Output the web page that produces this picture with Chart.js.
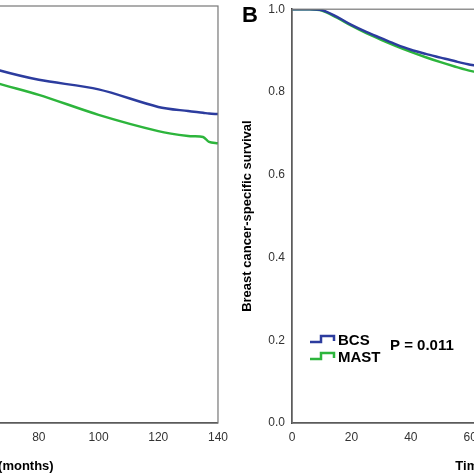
<!DOCTYPE html>
<html>
<head>
<script src="https://cdn.jsdelivr.net/npm/chart.js@4"></script>
<style>
body { margin:0; width:474px; height:474px; overflow:hidden; background:#fff; position:relative; font-family:"Liberation Sans", Arial, sans-serif; }
canvas { position:absolute; top:0; }
#cA { left:-220px; }
#cB { left:240px; }
</style>
</head>
<body>
<canvas id="cA" width="450" height="474"></canvas>
<canvas id="cB" width="480" height="474"></canvas>
<script>
// Panel A (only right part visible)
var monthsA = [0, 20, 40, 60, 66, 80, 100, 120, 130, 135, 137, 140];
var bcsA    = [1.0, 0.95, 0.90, 0.862, 0.847, 0.823, 0.80, 0.758, 0.748, 0.744, 0.742, 0.741];
var mastA   = [1.0, 0.94, 0.88, 0.83, 0.815, 0.787, 0.739, 0.70, 0.688, 0.686, 0.674, 0.671];
var xTicksA = [80, 100, 120, 140];

// Panel B
var monthsB = [0, 5, 10, 15, 20, 25, 30, 35, 40, 45, 50, 55, 60, 70];
var bcsB    = [1.0, 1.0, 0.998, 0.982, 0.962, 0.945, 0.93, 0.915, 0.902, 0.892, 0.883, 0.874, 0.866, 0.855];
var mastB   = [1.0, 1.0, 0.997, 0.98, 0.96, 0.942, 0.926, 0.911, 0.897, 0.884, 0.872, 0.861, 0.851, 0.838];
var yTicksB = [0.0, 0.2, 0.4, 0.6, 0.8, 1.0];

var blue = '#2c3c9e', green = '#2db53c';

function pts(xs, ys) { return xs.map(function(x, i) { return { x: x, y: ys[i] }; }); }

var frame = {
    id: 'frame',
    afterDraw: function(chart) {
        var a = chart.chartArea, c = chart.ctx;
        c.save();
        c.strokeStyle = '#777'; c.lineWidth = 1.2;
        c.strokeRect(a.left, a.top, a.right - a.left, a.bottom - a.top);
        c.restore();
    }
};

function lineSet(label, data, color) {
    return { label: label, data: data, borderColor: color, borderWidth: 2.5, pointRadius: 0, fill: false, tension: 0.3 };
}

var tickFont = { family: 'Liberation Sans', size: 12 };
var titleFont = { family: 'Liberation Sans', size: 13, weight: 'bold' };

new Chart(document.getElementById('cA'), {
    type: 'line',
    data: { datasets: [lineSet('BCS', pts(monthsA, bcsA), blue), lineSet('MAST', pts(monthsA, mastA), green)] },
    options: {
        responsive: false, animation: false,
        layout: { padding: { left: 20, right: 11, top: 6 } },
        plugins: { legend: { display: false }, tooltip: { enabled: false } },
        scales: {
            x: {
                type: 'linear', min: 0, max: 140,
                afterBuildTicks: function(s) { s.ticks = xTicksA.map(function(v) { return { value: v }; }); },
                afterFit: function(s) { s.height = 51; },
                grid: { display: false, drawTicks: true, tickLength: 5, tickColor: '#333' },
                border: { color: '#333', width: 1.5 },
                ticks: { color: '#333', font: tickFont, padding: 2 },
                title: { display: true, text: 'Time (months)', color: '#000', font: titleFont, padding: 0 }
            },
            y: { display: false, min: 0, max: 1 }
        }
    },
    plugins: [frame]
});

var extras = {
    id: 'extras',
    afterDraw: function(chart) {
        var c = chart.ctx;
        c.save();
        c.fillStyle = '#000';
        c.font = 'bold 22px "Liberation Sans"';
        c.fillText('B', 2, 22);
        // legend
        var items = [['BCS', blue, 339], ['MAST', green, 356]];
        c.font = 'bold 15px "Liberation Sans"';
        items.forEach(function(it) {
            var y = it[2];
            c.strokeStyle = it[1]; c.lineWidth = 2.5;
            c.beginPath();
            c.moveTo(70, y + 3); c.lineTo(81, y + 3); c.lineTo(81, y - 3); c.lineTo(94, y - 3); c.lineTo(94, y + 2);
            c.stroke();
            c.fillStyle = '#000';
            c.fillText(it[0], 98, y + 6);
        });
        c.fillText('P = 0.011', 150, 350);
        c.restore();
    }
};

new Chart(document.getElementById('cB'), {
    type: 'line',
    data: { datasets: [lineSet('BCS', pts(monthsB, bcsB), blue), lineSet('MAST', pts(monthsB, mastB), green)] },
    options: {
        responsive: false, animation: false,
        layout: { padding: { left: 0, right: 0, top: 6 } },
        plugins: { legend: { display: false }, tooltip: { enabled: false } },
        scales: {
            x: {
                type: 'linear', min: 0, max: 140,
                afterBuildTicks: function(s) { s.ticks = [0, 20, 40, 60, 80, 100, 120, 140].map(function(v) { return { value: v }; }); },
                afterFit: function(s) { s.height = 51; },
                grid: { display: false, tickLength: 5, tickColor: '#333' },
                border: { color: '#333', width: 1.5 },
                ticks: { color: '#333', font: tickFont, padding: 2 },
                title: { display: true, text: 'Time (months)', color: '#000', font: titleFont, padding: 0 }
            },
            y: {
                min: 0, max: 1,
                afterBuildTicks: function(s) { s.ticks = yTicksB.map(function(v) { return { value: v }; }); },
                afterFit: function(s) { s.width = 52; },
                grid: { display: false, tickLength: 5, tickColor: '#333' },
                border: { color: '#333', width: 1.5 },
                ticks: { color: '#333', font: tickFont, padding: 2, callback: function(v) { return v.toFixed(1); } },
                title: { display: true, text: 'Breast cancer-specific survival', color: '#000', font: titleFont, padding: 0 }
            }
        }
    },
    plugins: [frame, extras]
});
</script>
</body>
</html>
